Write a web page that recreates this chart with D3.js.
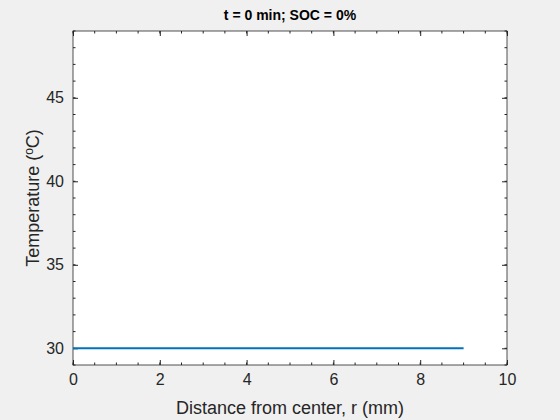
<!DOCTYPE html>
<html><head><meta charset="utf-8">
<script src="https://cdn.jsdelivr.net/npm/d3@7"></script>
<style>body{margin:0;background:#f0f0f0;font-family:"Liberation Sans",Arial,sans-serif}</style>
</head><body><svg id="chart" width="560" height="420"></svg>
<script>
// series
var rValues = [0, 9];
var tempValues = [30, 30];
var xTicks = [0, 2, 4, 6, 8, 10];
var yTicks = [30, 35, 40, 45];
var titleText = "t = 0 min; SOC = 0%";

var svg = d3.select("#chart");
var L = 73, R = 507, T = 31, B = 365;
var x = d3.scaleLinear().domain([0, 10]).range([L, R]);
var y = d3.scaleLinear().domain([29, 49]).range([B, T]);

svg.append("rect").attr("x", L).attr("y", T).attr("width", R - L).attr("height", B - T).attr("fill", "#fff");

function tickAxis(axis) {
    return function(g) {
        g.call(axis);
        g.select(".domain").remove();
        g.selectAll("line").attr("stroke", "#262626");
        g.selectAll("text").attr("font-size", 16).attr("fill", "#262626").attr("font-family", "Liberation Sans, Arial");
    };
}
var minorX = d3.range(0, 10.01, 0.5), minorY = d3.range(29, 49.01, 1);

svg.append("g").attr("transform", "translate(0," + B + ")").call(tickAxis(d3.axisBottom(x).tickValues(xTicks).tickSizeInner(-5).tickPadding(9)));
svg.append("g").attr("transform", "translate(0," + T + ")").call(function(g){g.call(d3.axisTop(x).tickValues(xTicks).tickSizeInner(-5).tickFormat(""));g.select(".domain").remove();g.selectAll("line").attr("stroke","#262626");});
svg.append("g").attr("transform", "translate(" + L + ",0)").call(tickAxis(d3.axisLeft(y).tickValues(yTicks).tickSizeInner(-5).tickPadding(9)));
svg.append("g").attr("transform", "translate(" + R + ",0)").call(function(g){g.call(d3.axisRight(y).tickValues(yTicks).tickSizeInner(-5).tickFormat(""));g.select(".domain").remove();g.selectAll("line").attr("stroke","#262626");});

// minor ticks
var mg = svg.append("g").attr("stroke", "#262626");
minorX.forEach(function(v){
    mg.append("line").attr("x1", x(v)).attr("x2", x(v)).attr("y1", B).attr("y2", B - 2.5);
    mg.append("line").attr("x1", x(v)).attr("x2", x(v)).attr("y1", T).attr("y2", T + 2.5);
});
minorY.forEach(function(v){
    mg.append("line").attr("y1", y(v)).attr("y2", y(v)).attr("x1", L).attr("x2", L + 2.5);
    mg.append("line").attr("y1", y(v)).attr("y2", y(v)).attr("x1", R).attr("x2", R - 2.5);
});

svg.append("rect").attr("x", L).attr("y", T).attr("width", R - L).attr("height", B - T).attr("fill", "none").attr("stroke", "#262626").attr("stroke-width", 0.8);

var line = d3.line().x(function(d, i){return x(rValues[i]);}).y(function(d){return y(d);});
svg.append("path").datum(tempValues).attr("d", line).attr("fill", "none").attr("stroke", "#0072BD").attr("stroke-width", 2);

svg.append("text").attr("x", (L + R) / 2).attr("y", 20).attr("text-anchor", "middle").attr("font-weight", "bold").attr("font-size", 14).attr("fill", "#000").text(titleText);
svg.append("text").attr("x", (L + R) / 2).attr("y", 414).attr("text-anchor", "middle").attr("font-size", 18).attr("fill", "#262626").text("Distance from center, r (mm)");
var yl = svg.append("text").attr("transform", "translate(39," + ((T + B) / 2) + ") rotate(-90)").attr("text-anchor", "middle").attr("font-size", 18).attr("fill", "#262626");
yl.append("tspan").text("Temperature (");
yl.append("tspan").attr("dy", -6).attr("font-size", 12).text("o");
yl.append("tspan").attr("dy", 6).text("C)");
</script></body></html>
